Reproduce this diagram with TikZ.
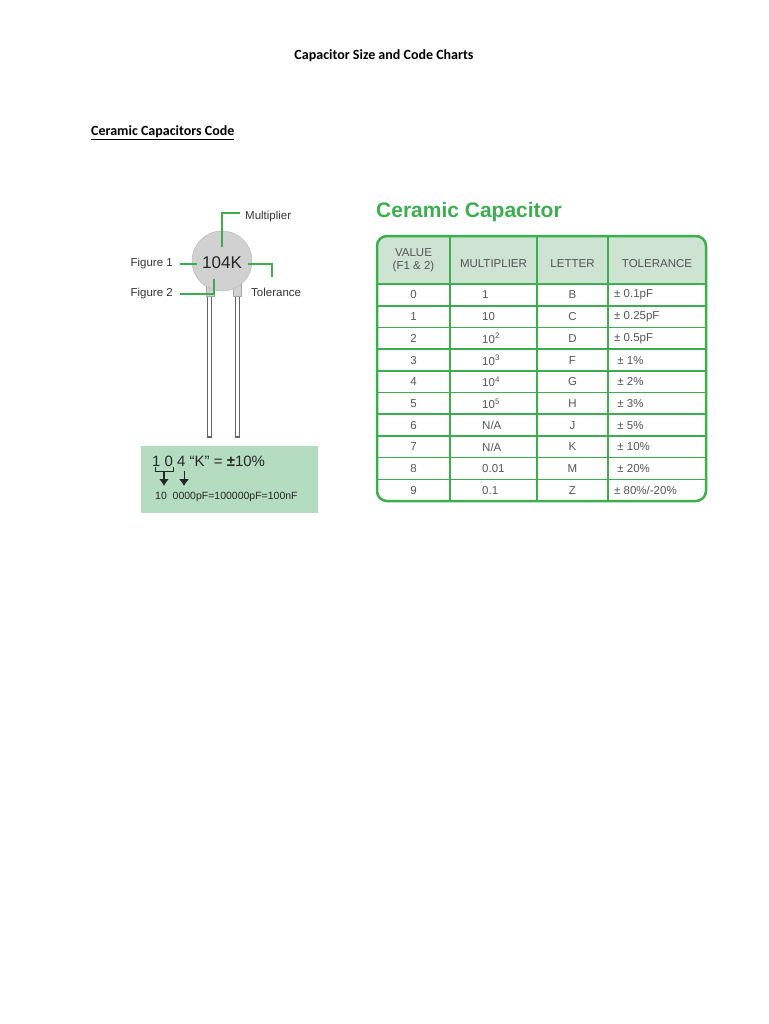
\documentclass[tikz,border=0pt]{standalone}
\usepackage{fontspec}
\usetikzlibrary{arrows.meta}
\setmainfont{Liberation Sans}
\newfontfamily\carl{Carlito}
\definecolor{gr}{HTML}{3DAE4F}
\definecolor{hdr}{HTML}{CFE3D2}
\definecolor{boxg}{HTML}{B3DCC1}
\definecolor{txt}{HTML}{555555}
\begin{document}
\begin{tikzpicture}[x=1pt,y=-1pt,
  lab/.style={font=\fontsize{11.5}{13}\selectfont, text=black!80, inner sep=0},
  cell/.style={font=\fontsize{11.5}{13}\selectfont, text=txt, inner sep=0},
  gline/.style={draw=gr, line width=2pt}]
\useasboundingbox (0,0) rectangle (768,1024);
\node[font=\carl\bfseries\fontsize{14}{16}\selectfont] (title) at (384,56) {Capacitor Size and Code Charts};
\node[font=\carl\bfseries\fontsize{14}{16}\selectfont, anchor=west, inner sep=0] (sub) at (91,133) {\underline{Ceramic Capacitors Code}};
% capacitor
\fill[black!60] (207,285) rectangle (212,438);
\fill[black!60] (235,285) rectangle (240,438);
\fill[white] (208,288) rectangle (211,436);
\fill[white] (236,288) rectangle (239,436);
\fill[black!18, draw=black!35] (206,276) -- (206,296) -- (214,296) -- (214,288) -- (233,288) -- (233,296) -- (241,296) -- (241,276) -- cycle;
\node[circle, fill=black!18, draw=black!30, minimum size=60pt] (disc) at (222,261) {};
\node[font=\fontsize{17}{19}\selectfont, text=black!85, inner sep=0] (val) at (222,263) {104K};
\node[lab, anchor=west] (mul) at (245,217) {Multiplier};
\node[lab, anchor=east] (f1) at (173,264) {Figure 1};
\node[lab, anchor=east] (f2) at (173,294) {Figure 2};
\node[lab, anchor=west] (tol) at (251,292) {Tolerance};
\coordinate (m1) at (222,247);
\draw[gline] (m1) |- (240,213);
\draw[gline] (180,264) -- (197,264);
\draw[gline] (248,264) -| (272,277);
\draw[gline] (180,294) -| (214,279);
% bottom box
\node[fill=boxg, minimum width=177pt, minimum height=67pt, inner sep=0] (box) at (229.5,479.5) {};
\node[font=\fontsize{15}{17}\selectfont, anchor=west, inner sep=0, text=black!85] (code) at (152,461) {1 0 4 “K” = \textbf{±}10\%};
\draw[black!85, line width=1pt] (155,471) -- (155,467) (155,471) -- (173,471) -- (173,467);
\draw[black!85, line width=1.5pt, -{Latex[length=7pt,width=10pt]}] (164,471) -- (164,486);
\draw[black!85, line width=1pt, -{Latex[length=7pt,width=10pt]}] (184,471) -- (184,486);
\node[font=\fontsize{10.5}{12}\selectfont, anchor=west, inner sep=0, text=black!85] (res) at (155,497) {10\ \ 0000pF=100000pF=100nF};
% table
\node[font=\bfseries\fontsize{21}{23}\selectfont, text=gr, anchor=west, inner sep=0] (ttl) at (376,212) {Ceramic Capacitor};
\begin{scope}
\clip[rounded corners=10pt] (377,236) rectangle (706,501);
\fill[hdr] (377,236) rectangle (706,284);
\end{scope}
\foreach \y in {284,305.7,327.4,349.1,370.8,392.5,414.2,435.9,457.6,479.3} \draw[gr, line width=1.6pt] (377,\y) -- (706,\y);
\foreach \x in {450,537,608} \draw[gr, line width=1.6pt] (\x,236) -- (\x,501);
\draw[gr, line width=2.5pt, rounded corners=10pt] (377,236) rectangle (706,501);
\node[cell, align=center] (h1) at (413.5,260) {VALUE\\(F1 \& 2)};
\node[cell] (h2) at (493.5,264) {MULTIPLIER};
\node[cell] (h3) at (572.5,264) {LETTER};
\node[cell] (h4) at (657,264) {TOLERANCE};
\foreach \a/\b/\c/\d [count=\i from 0] in {0/1/B/{± 0.1pF}, 1/10/C/{± 0.25pF}, 2/{10\textsuperscript{2}}/D/{± 0.5pF}, 3/{10\textsuperscript{3}}/F/{\ ± 1\%}, 4/{10\textsuperscript{4}}/G/{\ ± 2\%}, 5/{10\textsuperscript{5}}/H/{\ ± 3\%}, 6/{N/A}/J/{\ ± 5\%}, 7/{N/A}/K/{\ ± 10\%}, 8/0.01/M/{\ ± 20\%}, 9/0.1/Z/{± 80\%/-20\%}}{
  \pgfmathsetmacro\yy{295+21.7*\i}
  \node[cell] (a\i) at (413.5,\yy) {\a};
  \node[cell, anchor=west] (b\i) at (482,\yy) {\b};
  \node[cell] (c\i) at (572.5,\yy) {\c};
  \node[cell, anchor=west] (d\i) at (614,\yy) {\d};
}
\end{tikzpicture}
\end{document}
